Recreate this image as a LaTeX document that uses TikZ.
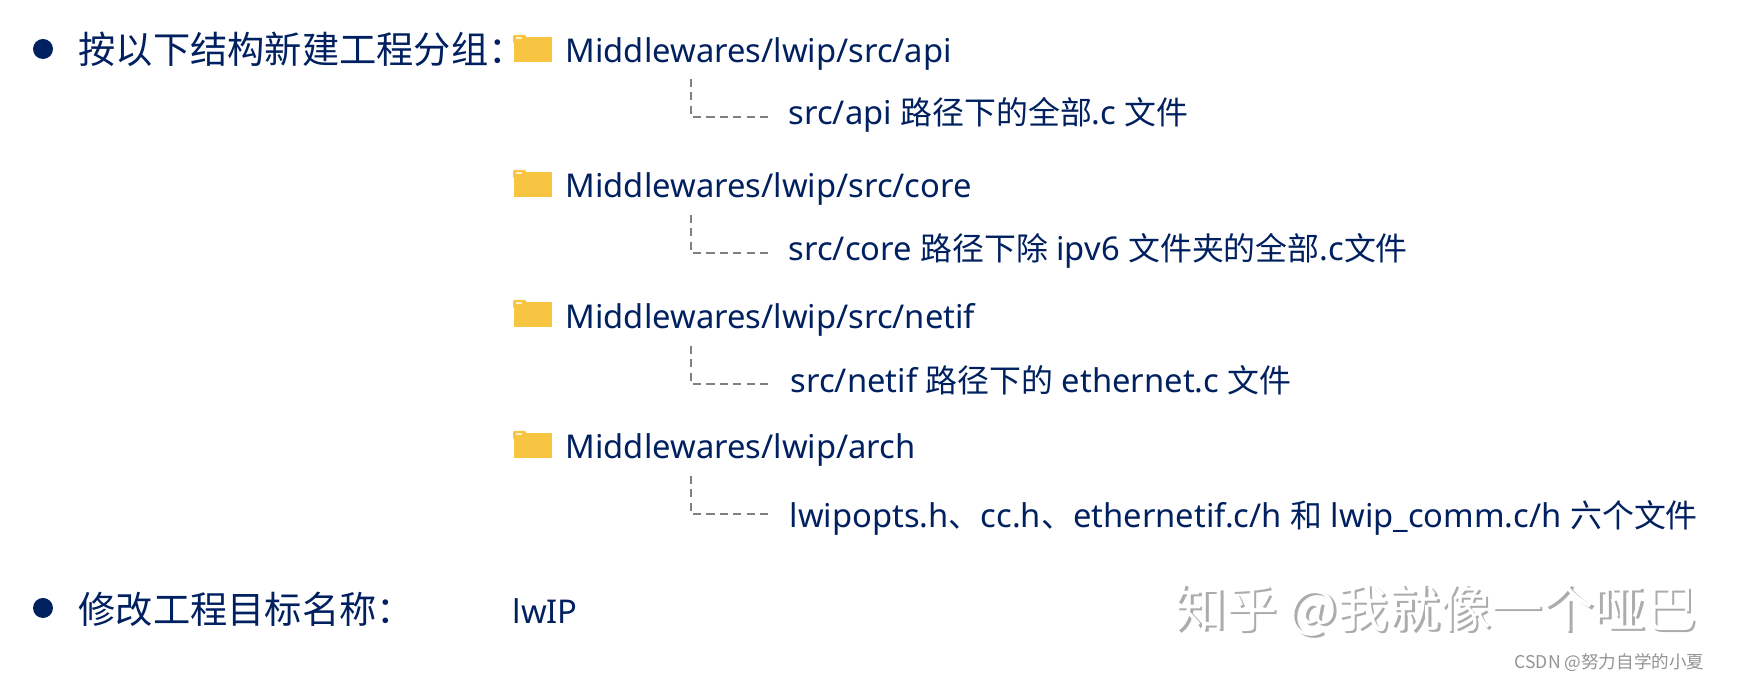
\documentclass[tikz,border=0pt]{standalone}
\usepackage{fontspec}
\setmainfont[Scale=0.97]{Noto Sans}
\newfontfamily\cjk{Noto Sans CJK SC}
\newfontfamily\cjksub[Scale=0.945]{Noto Sans CJK SC}
\usetikzlibrary{calc}
\definecolor{navy}{RGB}{0,32,96}
\definecolor{foldercol}{RGB}{247,197,66}
\tikzset{
	bigtxt/.style={anchor=base west,inner sep=0pt,text=navy,font=\fontsize{10.6}{12}\selectfont},
	dirtxt/.style={anchor=base west,inner sep=0pt,text=navy,font=\fontsize{9.6}{12}\selectfont},
	dot/.style={circle,fill=navy,inner sep=0pt,minimum size=0.2cm},
	foldr/.style={rectangle,fill=foldercol,inner sep=0pt,minimum width=0.38cm,minimum height=0.25cm},
	treeline/.style={gray,line width=0.55pt,dash pattern=on 2.3pt off 1.5pt},
	zhmark/.style={anchor=base west,inner sep=0pt,font=\cjk\fontsize{14.6}{15}\selectfont}
}
\newcommand{\folderbox}[2]{
	\node [foldr,anchor=south west] (#1) at (#2) {};
	\fill [foldercol,rounded corners=0.3pt] ($(#2)+(0,0.2)$) rectangle ($(#2)+(0.13,0.28)$);
	\fill [white!70!foldercol] ($(#2)+(0.03,0.235)$) rectangle ($(#2)+(0.09,0.26)$);
}
\begin{document}
\begin{tikzpicture}
				\useasboundingbox (0,0) rectangle (17.41,6.82);
				% puces
				\node [dot] (dotone) at (0.43,6.33) {};
				\node [dot] (dottwo) at (0.43,0.74) {};
				\node [bigtxt] (grouptxt) at (0.78,6.18) {\cjk 按以下结构新建工程分组：};
				\node [bigtxt] (nametxt) at (0.78,0.58) {\cjk 修改工程目标名称：};
				\node [dirtxt] (lwiptxt) at (5.12,0.58) {lwIP};
				% dossiers
				\folderbox{folderapi}{5.13,6.19}
				\folderbox{foldercore}{5.13,4.84}
				\folderbox{foldernetif}{5.13,3.54}
				\folderbox{folderarch}{5.13,2.23}
				\node [dirtxt] (dirapi) at (5.65,6.19) {Middlewares/lwip/src/api};
				\node [dirtxt] (dircore) at (5.65,4.84) {Middlewares/lwip/src/core};
				\node [dirtxt] (dirnetif) at (5.65,3.53) {Middlewares/lwip/src/netif};
				\node [dirtxt] (dirarch) at (5.65,2.23) {Middlewares/lwip/arch};
				% fichiers
				\node [dirtxt] (fileapi) at (7.88,5.57) {src/api {\cjksub 路径下的全部}.c {\cjksub 文件}};
				\node [dirtxt] (filecore) at (7.88,4.21) {src/core {\cjksub 路径下除} ipv6 {\cjksub 文件夹的全部}.c{\cjksub 文件}};
				\node [dirtxt] (filenetif) at (7.90,2.89) {src/netif {\cjksub 路径下的} ethernet.c {\cjksub 文件}};
				\node [dirtxt] (filearch) at (7.89,1.54) {lwipopts.h{\cjksub 、}cc.h{\cjksub 、}ethernetif.c/h {\cjksub 和} lwip\_comm.c/h {\cjksub 六个文件}};
				% traits
				\coordinate (topapi) at (6.91,6.03);
				\coordinate (endapi) at (7.68,5.65);
				\coordinate (topcore) at (6.91,4.67);
				\coordinate (endcore) at (7.68,4.29);
				\coordinate (topnetif) at (6.91,3.36);
				\coordinate (endnetif) at (7.68,2.98);
				\coordinate (toparch) at (6.91,2.06);
				\coordinate (endarch) at (7.68,1.68);
				\draw [treeline] (topapi) |- (endapi);
				\draw [treeline] (topcore) |- (endcore);
				\draw [treeline] (topnetif) |- (endnetif);
				\draw [treeline] (toparch) |- (endarch);
				% filigranes
				\node [zhmark,text=gray!65] (markshade) at (11.765,0.525) {知乎 @我就像一个哑巴};
				\node [zhmark,text=white] (marktop) at (11.74,0.545) {知乎 @我就像一个哑巴};
				\node [anchor=base west,inner sep=0pt,text=gray!85,font=\cjk\fontsize{5.0}{6}\selectfont] (csdntxt) at (15.14,0.13) {CSDN @努力自学的小夏};
\end{tikzpicture}
\end{document}
